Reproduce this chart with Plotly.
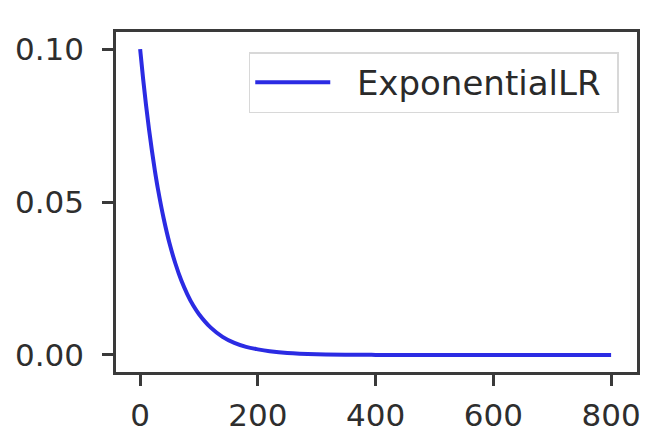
import plotly.graph_objects as go

# Values
steps = [0, 5, 10, 15, 20, 25, 30, 40, 50, 60, 70, 80, 90, 100, 120, 140, 160, 180, 200, 220, 250, 300, 400, 500, 600, 700, 800]
lr = [0.100, 0.0904, 0.0817, 0.0739, 0.0668, 0.0603, 0.0545, 0.0446, 0.0364, 0.0298, 0.0243, 0.0199, 0.0162, 0.0133,
      0.0089, 0.0059, 0.0039, 0.0026, 0.0018, 0.0012, 0.0006, 0.0002, 0.0000, 0.0000, 0.0000, 0.0000, 0.0000]
series_name = "ExponentialLR"
x_ticks = [0, 200, 400, 600, 800]
y_ticks = [0.0, 0.05, 0.10]
y_tick_labels = ["0.00", "0.05", "0.10"]

fig = go.Figure()
fig.add_trace(go.Scatter(x=steps, y=lr, mode="lines", name="\u00a0\u00a0" + series_name + "\u00a0",
                         line=dict(color="#2b2be3", width=4, shape="spline")))

axis_common = dict(showline=True, mirror=True, linecolor="#3a3a3a", linewidth=2.5,
                   ticks="outside", ticklen=11, tickwidth=2.5, tickcolor="#3a3a3a",
                   showgrid=False, zeroline=False, automargin=False,
                   tickfont=dict(family="DejaVu Sans", size=31, color="#2e2e2e"))

fig.update_layout(
    width=663, height=434,
    margin=dict(l=108, r=34, t=24, b=70),
    paper_bgcolor="white", plot_bgcolor="white",
    showlegend=True,
    legend=dict(x=0.965, y=0.941, xanchor="right", yanchor="top",
                bgcolor="rgba(255,255,255,0.9)", bordercolor="#d8d8d8", borderwidth=1.5,
                itemwidth=75,
                font=dict(family="DejaVu Sans", size=34, color="#2a2a2a")),
    xaxis=dict(range=[-41, 844], tickvals=x_ticks, ticklabelstandoff=3, **axis_common),
    yaxis=dict(range=[-0.0056, 0.1056], tickvals=y_ticks, ticktext=y_tick_labels,
               ticklabelstandoff=12, **axis_common),
)

fig.write_html("out.html")
